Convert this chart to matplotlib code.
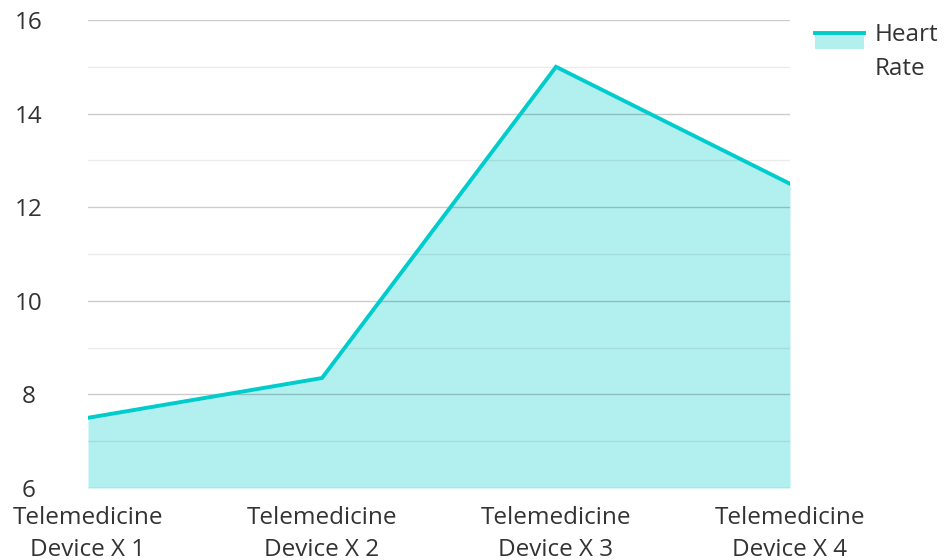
import matplotlib
matplotlib.use("Agg")
import matplotlib.pyplot as plt
from matplotlib.lines import Line2D
from matplotlib.patches import Rectangle
from matplotlib.legend_handler import HandlerBase

categories = ["Telemedicine\nDevice X 1", "Telemedicine\nDevice X 2",
              "Telemedicine\nDevice X 3", "Telemedicine\nDevice X 4"]
heart_rate = [7.5, 8.35, 15.0, 12.5]
series_name = "Heart\nRate"

plt.rcParams['font.family'] = ['Open Sans', 'DejaVu Sans']

FS = 17.5
fig = plt.figure(figsize=(9.44, 5.6), dpi=100)
ax = fig.add_axes([88/944, 1-488/560, (790-88)/944, (488-20)/560])

x = list(range(len(categories)))
line_color = "#00cccc"
fill_color = "#b2efef"
ax.fill_between(x, 6, heart_rate, color=fill_color, zorder=1, linewidth=0)
ax.plot(x, heart_rate, color=line_color, linewidth=2.8, zorder=3,
        solid_joinstyle='miter')

ax.set_xlim(0, 3)
ax.set_ylim(6, 16)
ax.set_yticks([6, 8, 10, 12, 14, 16])
ax.set_yticks([7, 9, 11, 13, 15], minor=True)
ax.grid(axis='y', which='major', color='black', alpha=0.2, linewidth=1, zorder=2)
ax.grid(axis='y', which='minor', color='black', alpha=0.08, linewidth=1, zorder=2)
ax.set_axisbelow(False)
for s in ax.spines.values():
    s.set_visible(False)
ax.tick_params(axis='both', which='both', length=0)
ax.tick_params(axis='y', labelsize=FS, labelcolor='#333333', pad=43)
ax.tick_params(axis='x', labelsize=FS, labelcolor='#333333', pad=13)
ax.set_xticks(x)
ax.set_xticklabels(categories, linespacing=1.45)
for lbl in ax.get_yticklabels():
    lbl.set_horizontalalignment('center')


class AreaHandler(HandlerBase):
    def create_artists(self, legend, orig_handle, xdescent, ydescent,
                       width, height, fontsize, trans):
        shift = fontsize * 0.5
        top = height + shift
        rect = Rectangle((-xdescent, top - height), width, height,
                         facecolor=fill_color, edgecolor='none', transform=trans)
        ln = Line2D([-xdescent, -xdescent + width], [top, top],
                    color=line_color, linewidth=2.8, transform=trans)
        return [rect, ln]


leg = fig.legend([object()], [series_name], loc='upper left',
                 bbox_to_anchor=(815/944, 1-23/560), frameon=False,
                 fontsize=FS, handlelength=2.0, handleheight=0.65,
                 handletextpad=0.45, borderpad=0, borderaxespad=0,
                 handler_map={object: AreaHandler()})
for t in leg.get_texts():
    t.set_color('#333333')
    t.set_linespacing(1.55)

fig.savefig("out.png", dpi=100)
